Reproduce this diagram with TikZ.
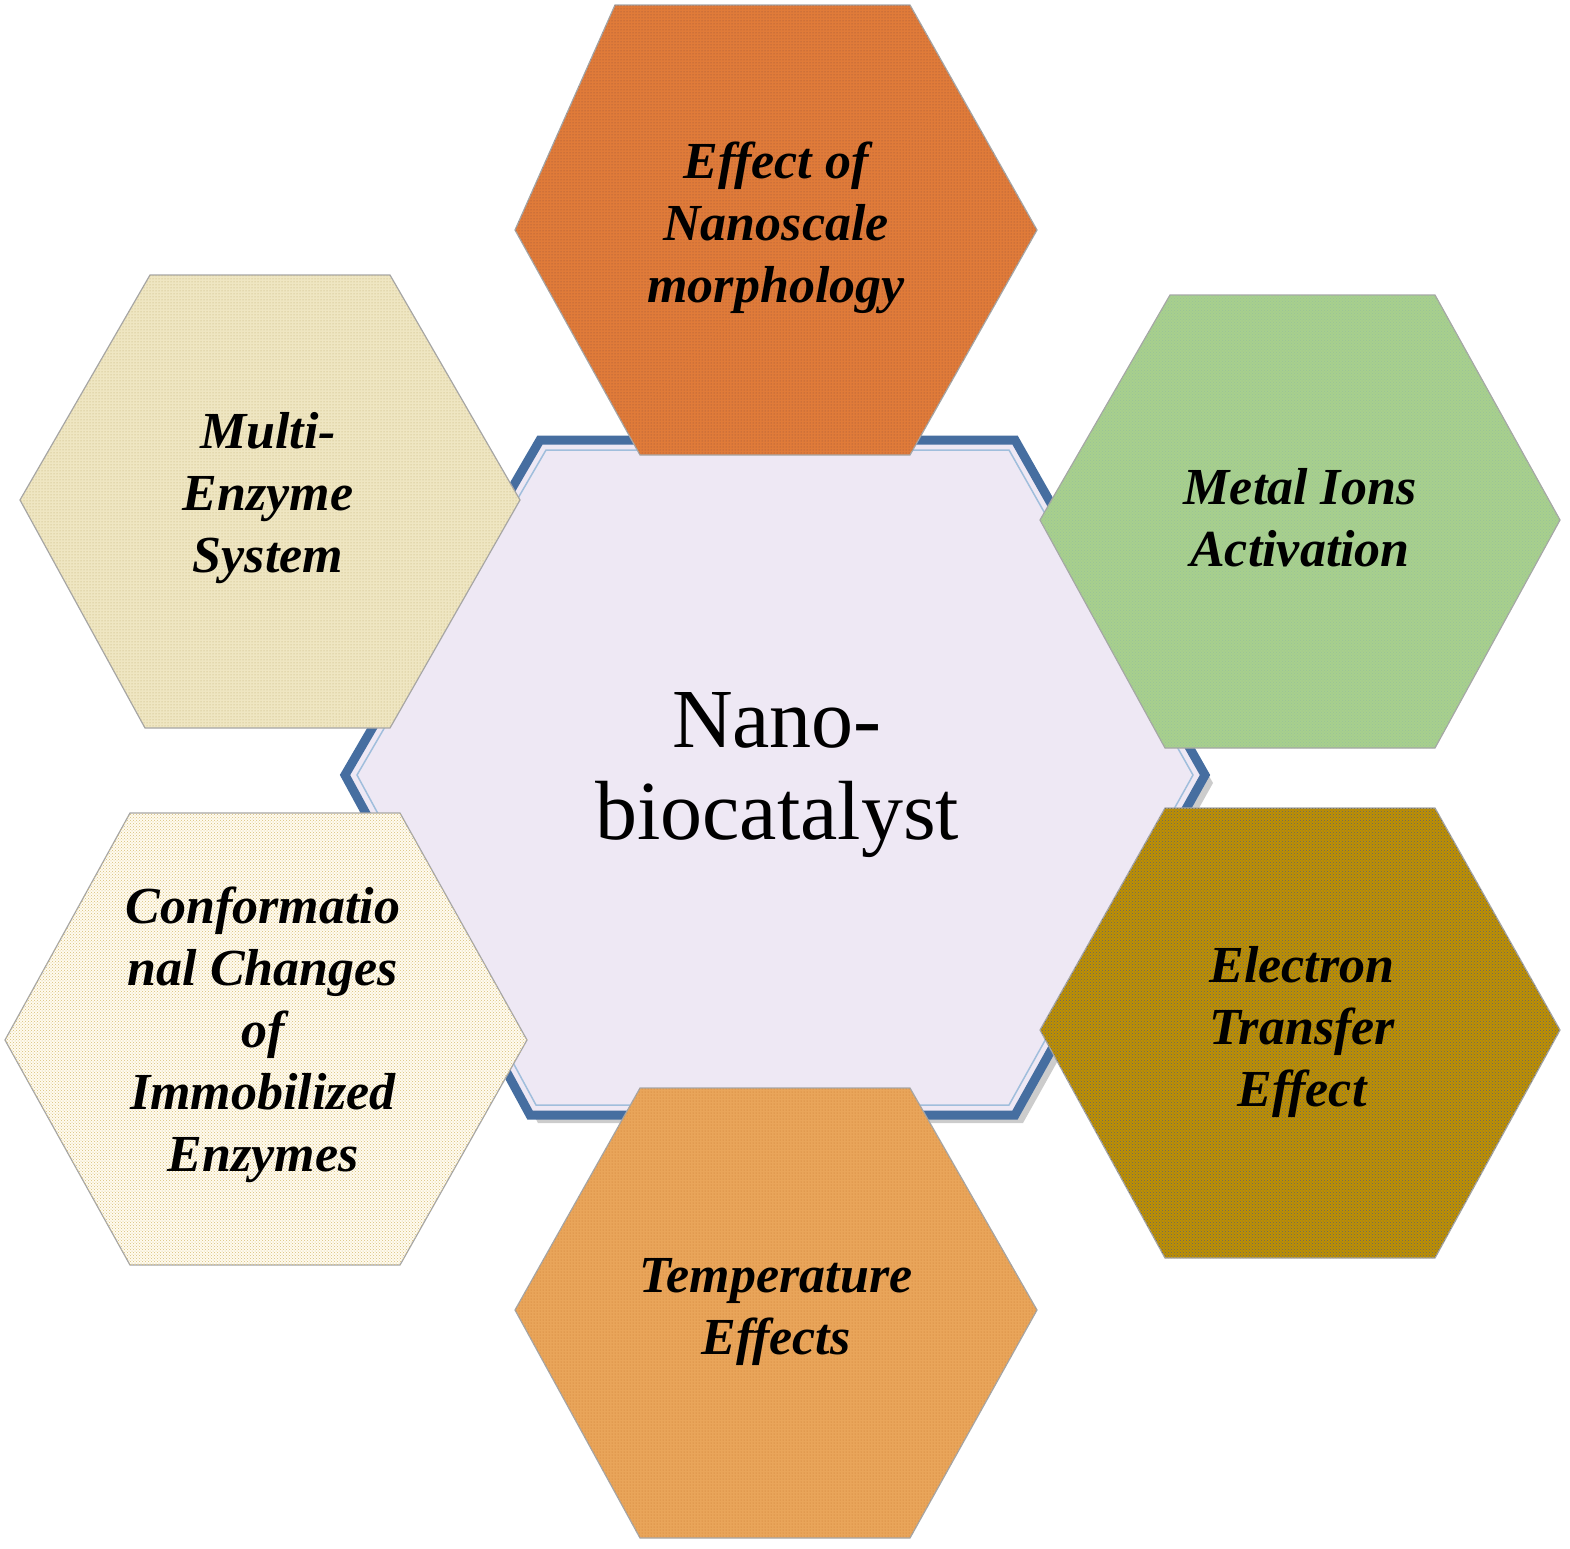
\documentclass[tikz,border=0pt]{standalone}
\usepackage{fontspec}
\setmainfont{Liberation Serif}
\usetikzlibrary{patterns}
\begin{document}
\begin{tikzpicture}[x=1pt,y=-1pt,
  hexo/.style={draw=gray!70, line width=1.2pt},
  lbl/.style={font=\bfseries\itshape\fontsize{52}{62}\selectfont, align=center}]
\useasboundingbox (0,0) rectangle (1570,1548);
% central hexagon
\fill[gray!40] (548,448)--(1023,448)--(1213,783)--(1023,1123)--(538,1123)--(353,783)--cycle;
\draw[line width=9pt, draw={rgb,255:red,70;green,110;blue,160}, fill={rgb,255:red,238;green,232;blue,244}, line join=miter]
  (540,440)--(1015,440)--(1205,775)--(1015,1115)--(530,1115)--(345,775)--cycle;
\draw[line width=1.5pt, draw={rgb,255:red,160;green,190;blue,220}] (546,450)--(1009,450)--(1193,775)--(1009,1105)--(536,1105)--(357,775)--cycle;
\node[font=\fontsize{84}{92}\selectfont, align=center] (center) at (777,775) {Nano-\\biocatalyst};
% top
\filldraw[hexo, fill={rgb,255:red,224;green,123;blue,57}] (615,5)--(910,5)--(1037,230)--(910,455)--(640,455)--(515,230)--cycle;
\fill[pattern=dots, pattern color={rgb,255:red,150;green,80;blue,60}] (615,5)--(910,5)--(1037,230)--(910,455)--(640,455)--(515,230)--cycle;
\node[lbl] (t) at (776,228) {Effect of\\Nanoscale\\morphology};
% right upper
\filldraw[hexo, fill={rgb,255:red,168;green,208;blue,141}] (1170,295)--(1435,295)--(1560,520)--(1435,748)--(1165,748)--(1040,520)--cycle;
\fill[pattern=crosshatch dots, pattern color=green!40!black!40] (1170,295)--(1435,295)--(1560,520)--(1435,748)--(1165,748)--(1040,520)--cycle;
\node[lbl] (ru) at (1300,518) {Metal Ions\\Activation};
% right lower
\filldraw[hexo, fill={rgb,255:red,191;green,144;blue,0}] (1165,808)--(1435,808)--(1560,1030)--(1435,1258)--(1165,1258)--(1040,1030)--cycle;
\fill[pattern=crosshatch dots, pattern color=black!60] (1165,808)--(1435,808)--(1560,1030)--(1435,1258)--(1165,1258)--(1040,1030)--cycle;
\node[lbl] (rl) at (1302,1032) {Electron\\Transfer\\Effect};
% bottom
\filldraw[hexo, fill={rgb,255:red,233;green,165;blue,90}] (640,1088)--(910,1088)--(1037,1310)--(910,1538)--(640,1538)--(515,1310)--cycle;
\fill[pattern=dots, pattern color={rgb,255:red,200;green,120;blue,50}] (640,1088)--(910,1088)--(1037,1310)--(910,1538)--(640,1538)--(515,1310)--cycle;
\node[lbl] (b) at (776,1312) {Temperature\\Effects};
% left top
\filldraw[hexo, fill={rgb,255:red,239;green,230;blue,194}] (150,275)--(390,275)--(520,500)--(390,728)--(145,728)--(20,500)--cycle;
\fill[pattern=dots, pattern color={rgb,255:red,190;green,170;blue,110}] (150,275)--(390,275)--(520,500)--(390,728)--(145,728)--(20,500)--cycle;
\node[lbl] (lt) at (268,498) {Multi-\\Enzyme\\System};
% left bottom
\filldraw[hexo, fill={rgb,255:red,255;green,251;blue,239}] (130,813)--(400,813)--(527,1040)--(400,1265)--(130,1265)--(5,1040)--cycle;
\fill[pattern=crosshatch dots, pattern color={rgb,255:red,215;green,190;blue,120}] (130,813)--(400,813)--(527,1040)--(400,1265)--(130,1265)--(5,1040)--cycle;
\node[lbl] (lb) at (263,1035) {Conformatio\\nal Changes\\of\\Immobilized\\Enzymes};
\end{tikzpicture}
\end{document}
